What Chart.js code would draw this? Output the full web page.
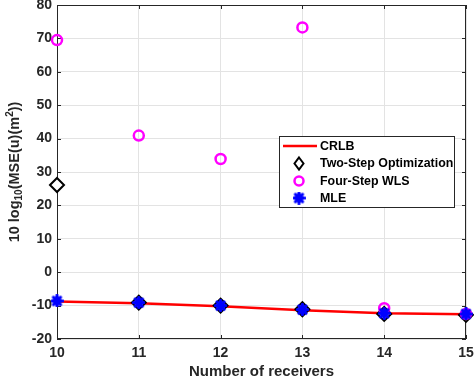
<!DOCTYPE html>
<html><head><meta charset="utf-8">
<script src="https://cdn.jsdelivr.net/npm/chart.js@4/dist/chart.umd.min.js"></script>
<style>html,body{margin:0;padding:0;background:#fff}#wrap{width:474px;height:381px}</style>
</head><body><div id="wrap"><canvas id="c" width="474" height="381"></canvas></div>
<script>
const receivers = [10, 11, 12, 13, 14, 15];
const crlb = [-8.8, -9.3, -10.2, -11.4, -12.3, -12.6];
const twoStep = [26.1, -9.1, -10.0, -11.1, -12.5, -12.8];
const fourStep = [69.5, 40.9, 33.9, 73.3, -10.8, -12.5];
const mle = [-8.6, -9.1, -10.0, -11.2, -12.3, -12.5];
const xTicks = [10, 11, 12, 13, 14, 15];
const yTicks = [-20, -10, 0, 10, 20, 30, 40, 50, 60, 70, 80];
const labels = ['CRLB', 'Two-Step Optimization', 'Four-Step WLS', 'MLE'];
const xTitle = 'Number of receivers';
const yTitleParts = [['10 log', 0], ['10', 1], ['(MSE(u)(m', 0], ['2', -1], ['))', 0]];

const FONT = '"Liberation Sans", Arial, Helvetica, sans-serif';
const AX = '#262626';

function starCanvas(size, color) {
  const c = document.createElement('canvas');
  c.width = size; c.height = size;
  const g = c.getContext('2d');
  const m = size / 2, r = size / 2 - 1.5;
  g.strokeStyle = color; g.lineWidth = 3.2; g.lineCap = 'round';
  for (let i = 0; i < 4; i++) {
    const a = i * Math.PI / 4;
    g.beginPath();
    g.moveTo(m - r * Math.cos(a), m - r * Math.sin(a));
    g.lineTo(m + r * Math.cos(a), m + r * Math.sin(a));
    g.stroke();
  }
  g.fillStyle = color; g.beginPath(); g.arc(m, m, r * 0.6, 0, 2 * Math.PI); g.fill();
  return c;
}
const mleStar = starCanvas(13, '#0000ff');

const pts = arr => receivers.map((x, i) => ({ x: x, y: arr[i] }));
const noPad = () => ({ left: 0, top: 0, right: 0, bottom: 0 });

const legendPlugin = {
  id: 'boxLegend',
  afterDraw(chart) {
    const ctx = chart.ctx;
    const x0 = 279, y0 = 136, w = 175, h = 71;
    ctx.save();
    ctx.fillStyle = '#fff'; ctx.fillRect(x0, y0, w, h);
    ctx.strokeStyle = AX; ctx.lineWidth = 1; ctx.strokeRect(x0 + 0.5, y0 + 0.5, w, h);
    ctx.font = 'bold 12.4px ' + FONT;
    ctx.textBaseline = 'middle'; ctx.fillStyle = '#000';
    const ys = [146, 163.5, 181, 198];
    chart.data.datasets.forEach((ds, i) => {
      const y = ys[i];
      const cx = 299;
      if (i === 0) {
        ctx.strokeStyle = ds.borderColor; ctx.lineWidth = 2.5;
        ctx.beginPath(); ctx.moveTo(283, y); ctx.lineTo(317, y); ctx.stroke();
      } else if (i === 1) {
        ctx.strokeStyle = '#000'; ctx.lineWidth = 2; ctx.fillStyle = '#fff';
        ctx.beginPath(); ctx.moveTo(cx, y - 6); ctx.lineTo(cx + 4.5, y); ctx.lineTo(cx, y + 6); ctx.lineTo(cx - 4.5, y); ctx.closePath();
        ctx.fill(); ctx.stroke();
      } else if (i === 2) {
        ctx.strokeStyle = '#ff00ff'; ctx.lineWidth = 2.5;
        ctx.beginPath(); ctx.arc(cx, y, 4.5, 0, 2 * Math.PI); ctx.stroke();
      } else {
        ctx.drawImage(mleStar, cx - 6.5, y - 6.5);
      }
      ctx.fillStyle = '#000';
      ctx.fillText(ds.label, 320, y + 0.5);
    });
    ctx.restore();
  }
};

const framePlugin = {
  id: 'frame',
  beforeDatasetsDraw(chart) {
    const { ctx, chartArea: a, scales } = chart;
    ctx.save();
    ctx.strokeStyle = AX; ctx.lineWidth = 1;
    ctx.strokeRect(a.left + 0.5, a.top + 0.5, a.right - a.left - 1, a.bottom - a.top - 1);
    ctx.beginPath();
    yTicks.forEach(v => {
      const y = Math.round(scales.y.getPixelForValue(v)) + 0.5;
      ctx.moveTo(a.left, y); ctx.lineTo(a.left + 4, y);
      ctx.moveTo(a.right, y); ctx.lineTo(a.right - 4, y);
    });
    xTicks.forEach(v => {
      const x = Math.round(scales.x.getPixelForValue(v)) + 0.5;
      ctx.moveTo(x, a.bottom); ctx.lineTo(x, a.bottom - 4);
      ctx.moveTo(x, a.top); ctx.lineTo(x, a.top + 4);
    });
    ctx.stroke();
    // y title with sub/superscripts
    const big = 'bold 14.5px ' + FONT, small = 'bold 10px ' + FONT;
    let total = 0;
    yTitleParts.forEach(([t, s]) => { ctx.font = s ? small : big; total += ctx.measureText(t).width; });
    const cy = (a.top + a.bottom) / 2;
    ctx.translate(15, cy);
    ctx.rotate(-Math.PI / 2);
    ctx.fillStyle = AX; ctx.textBaseline = 'middle'; ctx.textAlign = 'left';
    let x = -total / 2;
    yTitleParts.forEach(([t, s]) => {
      ctx.font = s ? small : big;
      ctx.fillText(t, x, s === 1 ? 4 : (s === -1 ? -5 : 0));
      x += ctx.measureText(t).width;
    });
    ctx.restore();
  }
};

new Chart(document.getElementById('c'), {
  type: 'scatter',
  data: {
    datasets: [
      { label: labels[0], data: pts(crlb), showLine: true, borderColor: '#ff0000', borderWidth: 2.5, pointRadius: 0, tension: 0, order: 4, clip: false },
      { label: labels[1], data: pts(twoStep), pointStyle: 'rectRot', pointRadius: 7, borderColor: '#000', backgroundColor: '#fff', borderWidth: 2, showLine: false, order: 3, clip: false },
      { label: labels[2], data: pts(fourStep), pointStyle: 'circle', pointRadius: 5, borderColor: '#ff00ff', backgroundColor: 'rgba(0,0,0,0)', borderWidth: 2.5, showLine: false, order: 2, clip: false },
      { label: labels[3], data: pts(mle), pointStyle: mleStar, pointRadius: 6, borderColor: '#0000ff', backgroundColor: '#0000ff', showLine: false, order: 1, clip: false }
    ]
  },
  options: {
    responsive: false, animation: false,
    layout: { autoPadding: false, padding: { top: 5, right: 8, left: 0, bottom: 0 } },
    plugins: { legend: { display: false }, tooltip: { enabled: false } },
    scales: {
      x: {
        type: 'linear', min: 10, max: 15,
        afterBuildTicks: s => { s.ticks = xTicks.map(v => ({ value: v })); },
        afterFit: s => { s.height = 42; s.paddingLeft = 0; s.paddingRight = 0; s.getPadding = noPad; },
        grid: { color: '#e3e3e3', drawTicks: false },
        border: { display: false },
        ticks: { color: AX, font: { family: FONT, size: 14, weight: 'bold' }, padding: 6, maxRotation: 0 },
        title: { display: true, text: xTitle, color: AX, font: { family: FONT, size: 15, weight: 'bold' }, padding: { top: 3, bottom: 0 } }
      },
      y: {
        type: 'linear', min: -20, max: 80,
        afterBuildTicks: s => { s.ticks = yTicks.map(v => ({ value: v })); },
        afterFit: s => { s.width = 57; s.paddingTop = 0; s.paddingBottom = 0; s.getPadding = noPad; },
        grid: { color: '#e3e3e3', drawTicks: false },
        border: { display: false },
        ticks: { color: AX, font: { family: FONT, size: 14, weight: 'bold' }, padding: 5 },
        title: { display: false }
      }
    }
  },
  plugins: [framePlugin, legendPlugin]
});
</script>
</body></html>
